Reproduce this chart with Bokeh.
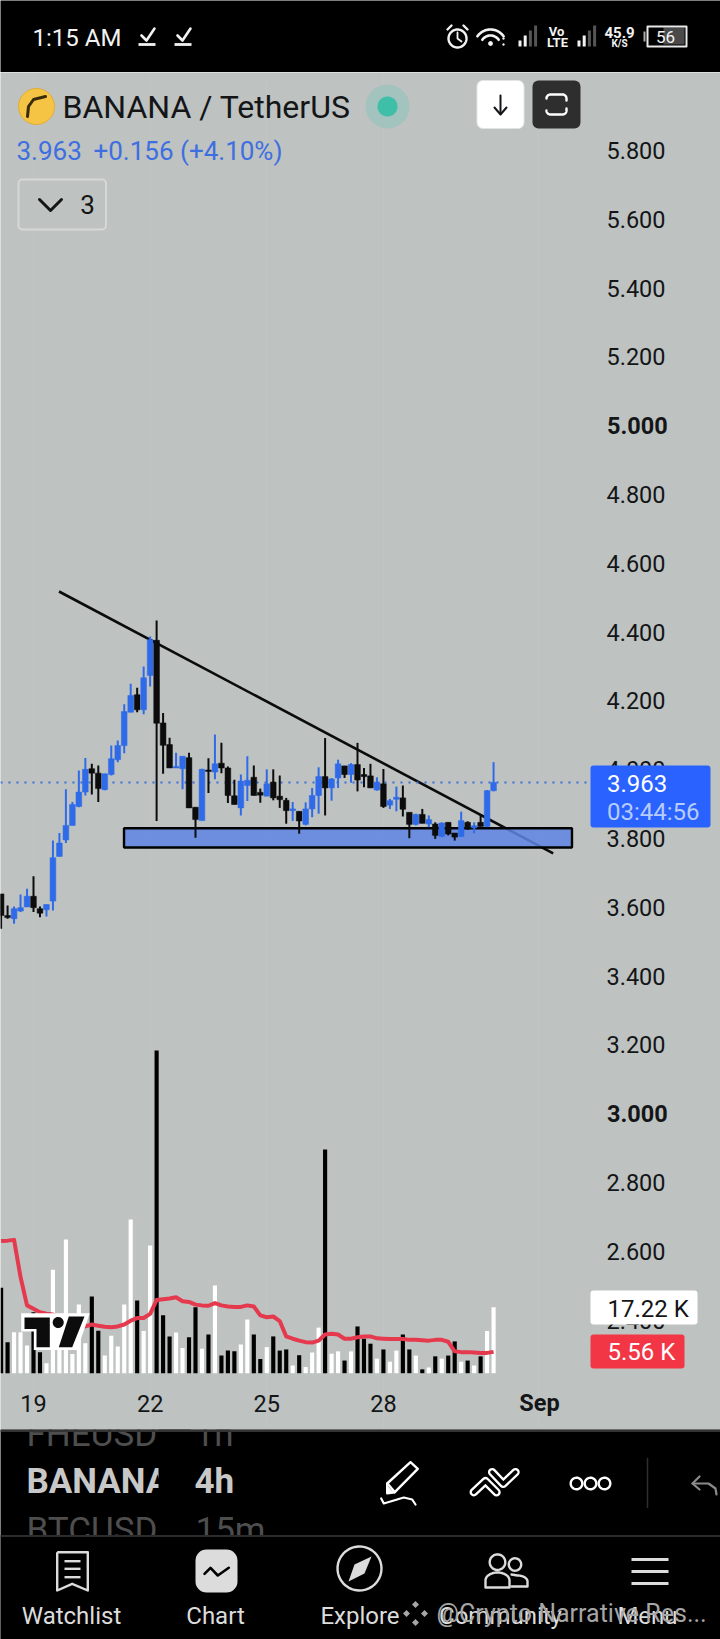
import numpy as np
from bokeh.core.properties import value
from bokeh.embed import file_html
from bokeh.layouts import column
from bokeh.models import (BoxAnnotation, ColumnDataSource, FixedTicker, Label,
                          Range1d)
from bokeh.plotting import figure
from bokeh.resources import INLINE

# ---------- data ----------
symbol = "BANANA / TetherUS"
last_price = 3.963
price_ticks = [2.4, 2.6, 2.8, 3.0, 3.2, 3.4, 3.6, 3.8, 4.0, 4.2, 4.4, 4.6, 4.8, 5.0, 5.2, 5.4, 5.6, 5.8]
date_ticks = [0, 18, 36, 54]
date_labels = ["19", "22", "25", "28"]
sep_tick = 78

bar_index = list(range(-5, 72))
open_ = [3.639,3.576,3.567,3.589,3.601,3.632,3.596,3.593,3.618,3.748,3.796,3.838,3.893,3.935,4.003,3.990,3.942,3.986,4.029,4.070,4.167,4.218,4.174,4.274,4.376,4.136,4.073,4.005,4.003,4.035,3.891,3.852,3.999,3.993,4.019,4.005,3.924,3.889,3.954,3.978,3.934,3.923,3.964,3.923,3.911,3.881,3.879,3.841,3.886,3.925,3.980,3.947,3.976,4.011,3.986,4.015,3.986,3.982,3.941,3.959,3.897,3.914,3.918,3.876,3.841,3.870,3.842,3.842,3.806,3.847,3.816,3.806,3.847,3.831,3.847,3.835,3.939]
high = [3.639,3.605,3.602,3.637,3.654,3.690,3.602,3.608,3.794,3.816,3.943,3.906,3.998,4.034,4.017,4.012,3.988,4.070,4.085,4.190,4.250,4.238,4.300,4.387,4.434,4.165,4.093,4.049,4.039,4.049,3.891,4.003,4.033,4.102,4.078,4.009,3.971,3.986,4.039,4.012,3.945,4.001,4.001,3.983,3.918,3.906,3.879,3.905,3.947,4.007,4.092,3.976,4.029,4.011,4.019,4.078,4.005,4.017,3.978,4.002,3.915,3.951,3.954,3.876,3.872,3.886,3.867,3.847,3.847,3.847,3.816,3.878,3.850,3.847,3.867,3.941,4.022]
low = [3.538,3.567,3.552,3.586,3.601,3.586,3.571,3.573,3.591,3.748,3.787,3.838,3.891,3.925,3.928,3.906,3.940,3.983,4.022,4.048,4.167,4.167,4.161,4.242,3.851,3.988,4.005,4.005,3.943,3.889,3.802,3.852,3.932,3.972,3.990,3.903,3.899,3.867,3.909,3.925,3.904,3.923,3.911,3.889,3.843,3.851,3.814,3.838,3.862,3.872,3.867,3.910,3.947,3.976,3.962,3.937,3.949,3.947,3.939,3.889,3.886,3.879,3.864,3.801,3.838,3.844,3.833,3.799,3.804,3.809,3.794,3.804,3.825,3.815,3.835,3.833,3.937]
close = [3.576,3.570,3.596,3.599,3.632,3.599,3.583,3.608,3.744,3.787,3.838,3.899,3.935,4.001,3.990,3.945,3.988,4.032,4.070,4.169,4.216,4.174,4.267,4.378,4.135,4.071,4.005,4.009,4.039,3.889,3.855,4.001,3.995,4.017,4.005,3.925,3.899,3.967,3.969,3.925,3.926,3.959,3.918,3.913,3.881,3.886,3.851,3.886,3.925,3.980,3.947,3.973,4.017,3.986,4.015,3.970,3.980,3.947,3.964,3.893,3.910,3.920,3.885,3.841,3.870,3.844,3.855,3.809,3.845,3.813,3.804,3.852,3.828,3.837,3.835,3.939,3.963]

volume_k = [22.3,8.1,10.7,10.7,7.2,15.9,5.5,2.6,27.0,6.8,34.9,5.0,17.9,7.8,20.0,11.1,4.6,9.8,7.0,17.9,40.1,19.0,11.0,33.3,84.2,15.1,9.6,10.6,6.6,9.4,17.2,6.4,10.1,22.9,4.6,5.9,5.7,7.5,14.0,10.1,3.7,6.8,9.6,5.9,6.2,2.0,4.7,1.6,5.4,11.9,58.4,5.1,5.7,3.3,5.7,12.2,9.0,7.7,3.8,6.2,3.0,5.9,10.1,6.2,4.6,1.0,1.5,4.4,3.8,4.6,8.3,3.0,3.3,2.0,4.4,11.0,17.22]
volume_ma_k = [34.5,34.6,34.8,25.1,17.7,16.8,15.9,15.5,15.3,14.6,13.7,13.1,12.4,12.2,12.7,12.4,12.1,12.0,12.2,12.7,13.7,14.4,14.4,15.5,19.1,19.3,19.5,19.8,18.8,18.6,17.9,17.7,17.6,18.3,17.7,17.4,17.3,17.3,17.7,17.4,15.1,14.6,14.8,13.6,9.6,9.0,8.5,8.1,8.0,8.5,10.1,10.3,10.1,9.0,9.0,9.4,9.6,9.6,9.1,9.0,8.9,8.9,8.9,8.7,8.7,8.6,8.5,8.7,8.7,8.2,5.7,5.5,5.5,5.4,5.3,5.3,5.56]
# colour of each volume bar, index -5 to 71
volume_side = list("BB" "WWW" "BB" "WWWWWWW" "BB" "WWWWW" "B" "WW" "BBB" "WW" "BB" "W" "B" "W" "BBB" "WW" "BB"
                   "W" "BBB" "W" "B" "WWW" "B" "WW" "B" "W" "BBB" "W" "B" "WW" "BB" "W" "B" "W" "B" "W" "BB"
                   "W" "B" "W" "B" "WW")

trend_idx = [3.94, 80.2]
trend_price = [4.518, 3.757]
zone_idx = [13.97, 83.1]
zone_price = [3.774, 3.83]

BG = "#bec2c1"
BLUE = "#2f6be8"
INK = "#131517"
FONT = value("Roboto")

W, H_TOP, H_CHART, H_BOT = 720, 72, 1357, 210

def fx(x):
    return (x - 33.0) / 6.48

def fy(y):
    return 3.8 + (838.0 - y) / 344.0

# ---------- chart: the frame fills the figure, the axis labels are pulled into it ----------
p = figure(width=W, height=H_CHART, output_backend="svg", toolbar_location=None,
           x_range=Range1d(fx(0), fx(720)), y_range=Range1d(fy(1429), fy(72)),
           y_axis_location="right", background_fill_color=BG, border_fill_color=BG,
           outline_line_color=None, min_border=0, frame_align=False)
p.extra_y_ranges = {"vol": Range1d(-(1429 - 1372.7) * 0.261, (1372.7 - 72) * 0.261)}

p.yaxis.ticker = FixedTicker(ticks=price_ticks)
p.yaxis.major_label_overrides = {t: ("" if t in (3.0, 5.0) else f"{t:.3f}") for t in price_ticks}
p.xaxis.ticker = FixedTicker(ticks=date_ticks + [sep_tick])
ov = dict(zip(date_ticks, date_labels))
ov[sep_tick] = ""
p.xaxis.major_label_overrides = ov
for ax in (p.xaxis, p.yaxis):
    ax.axis_line_color = None
    ax.major_tick_line_color = None
    ax.minor_tick_line_color = None
    ax.major_tick_in = 0
    ax.major_tick_out = 0
    ax.major_label_text_font = "Roboto"
    ax.major_label_text_font_size = "23.5px"
    ax.major_label_text_color = INK
p.yaxis.major_label_standoff = -114
p.xaxis.major_label_standoff = -35
p.ygrid.visible = False
p.xgrid.grid_line_color = "#c1c5c4"
p.xgrid.grid_line_width = 1

def conv(f, pts):
    xs = [q[0] for q in pts]
    ys = [q[1] for q in pts]
    if f is p:
        return [fx(v) for v in xs], [fy(v) for v in ys]
    return xs, ys

def stroke(f, pts, color, w=2.0, level="overlay", cap="round"):
    xs, ys = conv(f, pts)
    return f.line(xs, ys, line_color=color, line_width=w, level=level, line_cap=cap, line_join="round")

def fill(f, pts, color, level="overlay", line=None, w=1):
    xs, ys = conv(f, pts)
    return f.patch(xs, ys, fill_color=color, line_color=line, line_width=w, level=level)

def arc(cx, cy, r, a0=0, a1=360, ry=None):
    ry = r if ry is None else ry
    return [(cx + r * np.cos(np.radians(a)), cy - ry * np.sin(np.radians(a)))
            for a in np.linspace(a0, a1, 40)]

def text(f, s, x, y, size, color, align="left", style="normal", base="middle"):
    cx, cy = conv(f, [(x, y)])
    f.add_layout(Label(x=cx[0], y=cy[0], text=s, text_font="Roboto", text_font_size=f"{size}px",
                       text_color=color, text_align=align, text_baseline=base, text_font_style=style))

def rbox(f, x0, x1, y0, y1, color, line=None, radius=0, lw=1):
    xs, ys = conv(f, [(x0, y0), (x1, y1)])
    f.add_layout(BoxAnnotation(left=xs[0], right=xs[1], top=ys[0], bottom=ys[1], fill_color=color,
                               fill_alpha=1, line_color=line, line_width=lw, line_alpha=1,
                               border_radius=radius))

# volume
vol_src = ColumnDataSource(dict(x=bar_index, top=volume_k,
                                c=["#ffffff" if s == "W" else "#000000" for s in volume_side]))
p.vbar(x="x", top="top", bottom=0, width=0.64, fill_color="c", line_color=None, source=vol_src, y_range_name="vol")
p.line(bar_index, volume_ma_k, line_color="#e5394e", line_width=4, y_range_name="vol", line_join="round")

# trend line and zone
p.line(trend_idx, trend_price, line_color="#0b0b0b", line_width=2.6)
p.quad(left=[zone_idx[0]], right=[zone_idx[1]], bottom=[zone_price[0]], top=[zone_price[1]],
       fill_color="#5f85e3", fill_alpha=0.85, line_color="#000000", line_width=2.4)

# last price line
p.line([fx(0), fx(590)], [last_price, last_price], line_color="#3a6de0", line_width=2, line_dash="2 6")

# candles
cols = [BLUE if c >= o else "#0c0c0c" for o, c in zip(open_, close)]
src = ColumnDataSource(dict(x=bar_index, o=open_, h=high, l=low, c=close, col=cols,
                            top=[max(a, b) for a, b in zip(open_, close)],
                            bot=[min(a, b) for a, b in zip(open_, close)]))
p.segment(x0="x", x1="x", y0="l", y1="h", line_color="col", line_width=2, source=src)
p.vbar(x="x", top="top", bottom="bot", width=0.88, fill_color="col", line_color="col", line_width=0.5, source=src)

# TradingView mark
fill(p, [(20.7, 1312.7), (89.3, 1312.7), (76.7, 1349.5), (33.3, 1349.5), (33.3, 1331), (20.7, 1331)], "#ffffff")
fill(p, [(24, 1317), (49.3, 1317), (49.3, 1346.7), (36, 1346.7), (36, 1328.5), (24, 1328.5)], "#0c0c0c")
fill(p, arc(57.7, 1322, 5.5), "#0c0c0c")
fill(p, [(68.3, 1316), (84, 1316), (71.7, 1346.7), (58.3, 1346.7)], "#0c0c0c")

# bold axis labels and Sep
for tk, yy in ((5.0, 838 - 1.2 * 344), (3.0, 838 + 0.8 * 344)):
    text(p, f"{tk:.3f}", 606.5, yy, 23.5, INK, style="bold")
text(p, "Sep", 539, 1402, 23.5, INK, "center", "bold")

# price tags
rbox(p, 590, 710, 765, 827, "#2962ff", radius=3)
text(p, "3.963", 606.5, 783, 24, "#ffffff")
text(p, "03:44:56", 606.5, 811, 24, "#b7ccfb")
rbox(p, 590, 697, 1290, 1324, "#ffffff", radius=3)
text(p, "17.22 K", 607, 1308, 24, INK)
rbox(p, 590, 684, 1334, 1368, "#f23645", radius=3)
text(p, "5.56 K", 607, 1351, 24, "#ffffff")

# legend header
fill(p, arc(36, 106, 18), "#f6c445", line="#e0ad33")
stroke(p, [(27, 116), (28, 106), (33, 99), (45, 96)], "#3a2b08", 3)
stroke(p, [(31, 112), (33, 105), (38, 100)], "#f6c445", 1.5)
text(p, symbol, 62, 106, 32, INK)
fill(p, arc(387, 106, 22), "#a2c3be")
fill(p, arc(387, 106, 10), "#3fbfa8")
text(p, "3.963", 16, 150, 26, "#3d6fe0")
text(p, "+0.156 (+4.10%)", 93, 150, 26, "#3d6fe0")
rbox(p, 18, 105.5, 179, 229, BG, line="#d5d8d7", radius=4, lw=2)
stroke(p, [(39, 199), (50, 210), (61, 199)], INK, 3)
text(p, "3", 87, 204, 26, INK, "center")
rbox(p, 476.5, 523.5, 80, 128, "#ffffff", line="#e3e5e5", radius=6, lw=1)
stroke(p, [(500, 95), (500, 113)], INK, 2)
stroke(p, [(494, 107), (500, 114), (506, 107)], INK, 2)
rbox(p, 532, 580, 80, 128, "#2e2e2e", radius=6)
stroke(p, [(546, 97)] + arc(550, 98, 4, 180, 90) + [(563, 94)] + arc(562, 98, 4, 90, 0) + [(566, 100)], "#ffffff", 2.4)
stroke(p, [(546, 111)] + arc(550, 110, 4, 180, 270) + [(562, 114)] + arc(562, 110, 4, 270, 360) + [(566, 108)], "#ffffff", 2.4)

# ---------- status bar ----------
def panel(h, y0, y1):
    f = figure(width=W, height=h, output_backend="svg", toolbar_location=None,
               x_range=Range1d(0, 720), y_range=Range1d(y1, y0), background_fill_color="#000000",
               border_fill_color="#000000", outline_line_color=None, min_border=0,
               x_axis_type=None, y_axis_type=None, frame_align=False)
    f.grid.visible = False
    return f

t = panel(H_TOP, 0, 72)
text(t, "1:15 AM", 32, 37, 24, "#f2f2f2")
for dx in (0, 36):
    stroke(t, [(141 + dx, 35), (146 + dx, 40), (154 + dx, 28)], "#f2f2f2", 2.6)
    stroke(t, [(138 + dx, 44), (155 + dx, 44)], "#f2f2f2", 2.8, cap="butt")
stroke(t, arc(457, 38, 9), "#f2f2f2", 2.4)
stroke(t, [(457, 32), (457, 38), (461, 41)], "#f2f2f2", 1.8)
stroke(t, [(447, 29), (451, 25)], "#f2f2f2", 2.4)
stroke(t, [(463, 25), (467, 29)], "#f2f2f2", 2.4)
for r, w in ((16, 2.6), (10, 2.6)):
    stroke(t, arc(490, 45, r, 35, 145), "#f2f2f2", w)
fill(t, arc(490, 43, 2.4), "#f2f2f2")
fill(t, arc(503, 38, 1.2), "#f2f2f2")
fill(t, arc(503, 44, 1.2), "#f2f2f2")
for x0 in (518, 577):
    for i, h_ in enumerate((6, 11, 16, 21)):
        col = "#f2f2f2" if i < 2 else "#555555"
        fill(t, [(x0 + i * 5.2, 46), (x0 + i * 5.2 + 3, 46), (x0 + i * 5.2 + 3, 46 - h_), (x0 + i * 5.2, 46 - h_)], col)
text(t, "Vo", 556, 31, 13, "#f2f2f2", "center", "bold")
text(t, "LTE", 557, 42, 13, "#f2f2f2", "center", "bold")
text(t, "45.9", 619, 32, 15, "#f2f2f2", "center", "bold")
text(t, "K/S", 619, 43, 10, "#f2f2f2", "center", "bold")
fill(t, [(643, 31), (645, 31), (645, 41), (643, 41)], "#aaaaaa")
fill(t, [(663, 27), (684, 27), (684, 44), (663, 44)], "#4a4a4a", level="glyph")
stroke(t, [(647, 26), (686, 26), (686, 46), (647, 46), (647, 26)], "#e8e8e8", 2)
text(t, "56", 665, 36.5, 17, "#f2f2f2", "center")

# ---------- bottom panel ----------
b = panel(H_BOT, 1429, 1639)
DIM = "#4e4e4e"
for s, x, y, c, st in (("FHEUSD", 26, 1434, DIM, "normal"), ("1h", 194, 1434, DIM, "normal"),
                       ("BANANA", 26, 1481, "#c8c8c8", "bold"), ("4h", 194, 1481, "#c8c8c8", "bold"),
                       ("BTCUSD", 26, 1530, DIM, "normal"), ("15m", 195, 1530, DIM, "normal")):
    b.text([x], [y], text=[s], text_font=FONT, text_font_size="35px", text_color=c,
           text_baseline="middle", text_font_style=st)
b.quad(left=[158], right=[190], top=[1429], bottom=[1535], fill_color="#000000", line_color=None)
b.quad(left=[0], right=[720], top=[1535], bottom=[1639], fill_color="#000000", line_color=None)
b.quad(left=[0], right=[720], top=[1429], bottom=[1431.5], fill_color="#333333", line_color=None)
b.quad(left=[0], right=[720], top=[1534.5], bottom=[1536.5], fill_color="#2c2c2c", line_color=None)

W1 = "#ffffff"
stroke(b, [(386.7, 1492.7), (386.7, 1483), (410, 1461.7), (417.3, 1468.3), (394.3, 1491.7), (386.7, 1492.7)], W1, 2.4)
stroke(b, [(387, 1483), (394.3, 1491.7)], W1, 2.4)
fill(b, [(386.7, 1492.7), (386.7, 1485), (393, 1491.7)], W1)
stroke(b, [(380.7, 1498), (383.3, 1503), (393.3, 1500), (403.3, 1497), (411.7, 1499), (415, 1504)], W1, 2.2)
for pts in ([(491.7, 1471.7), (502.7, 1483.3), (515, 1471.7)], [(473.3, 1491.7), (485, 1480.7), (496, 1491.7)]):
    stroke(b, pts, W1, 8.5)
    stroke(b, pts, "#000000", 3.8)
for x in (576, 590, 604):
    stroke(b, arc(x, 1483, 5.8), W1, 2.4)
stroke(b, [(647, 1458), (647, 1507)], "#2e2e2e", 1.5)
stroke(b, [(692, 1483), (699, 1476)], "#8a8a8a", 2.2)
stroke(b, [(692, 1483), (699, 1489)], "#8a8a8a", 2.2)
stroke(b, [(693, 1483), (708, 1483), (715, 1488), (716, 1494)], "#8a8a8a", 2.2)

G = "#dcdcdc"
stroke(b, [(56.7, 1551.7), (87.3, 1551.7), (87.3, 1590), (71.7, 1583.3), (56.7, 1590), (56.7, 1551.7)], G, 2.4, cap="butt")
for y in (1560.7, 1568.3, 1576.7):
    stroke(b, [(64, y), (80, y)], G, 2.4, cap="butt")
text(b, "Watchlist", 71, 1615, 24, G, "center")
rbox(b, 195, 237, 1549, 1592, G, radius=11)
stroke(b, [(204, 1573.3), (210, 1567.3), (217.3, 1575), (228.3, 1567.3)], "#000000", 2.6)
text(b, "Chart", 215, 1615, 24, G, "center")
stroke(b, arc(359, 1568, 22), G, 2.4)
fill(b, [(371, 1556), (364, 1573), (348, 1581), (354, 1564)], G)
text(b, "Explore", 359.5, 1615, 24, G, "center")
stroke(b, arc(497, 1561.7, 7.8), G, 2.4)
stroke(b, arc(514.5, 1564, 6.2), G, 2.4)
stroke(b, arc(497, 1580, 12, 0, 180, ry=8) + [(485, 1587), (509, 1587), (509, 1580)], G, 2.4)
stroke(b, [(511, 1574)] + arc(517, 1581, 10, 90, 0, ry=6) + [(527, 1586), (511, 1586)], G, 2.4)
text(b, "Community", 500, 1615, 24, G, "center")
for y in (1559, 1571, 1583):
    stroke(b, [(631, y), (668, y)], G, 3.2, cap="butt")
text(b, "Menu", 647, 1615, 24, G, "center")
# watermark over the navigation labels
WM = "#a6a6a6"
for dx, dy in ((0, -9), (0, 9), (-9, 0), (9, 0)):
    xs = [415 + dx - 3.5, 415 + dx, 415 + dx + 3.5, 415 + dx]
    ys = [1613 + dy, 1613 + dy - 3.5, 1613 + dy, 1613 + dy + 3.5]
    fill(b, list(zip(xs, ys)), WM)
text(b, "@Crypto Narrative Res...", 436, 1613, 25, WM)

layout = column(t, p, b, spacing=0)
open("out.html", "w").write(file_html(layout, INLINE))
